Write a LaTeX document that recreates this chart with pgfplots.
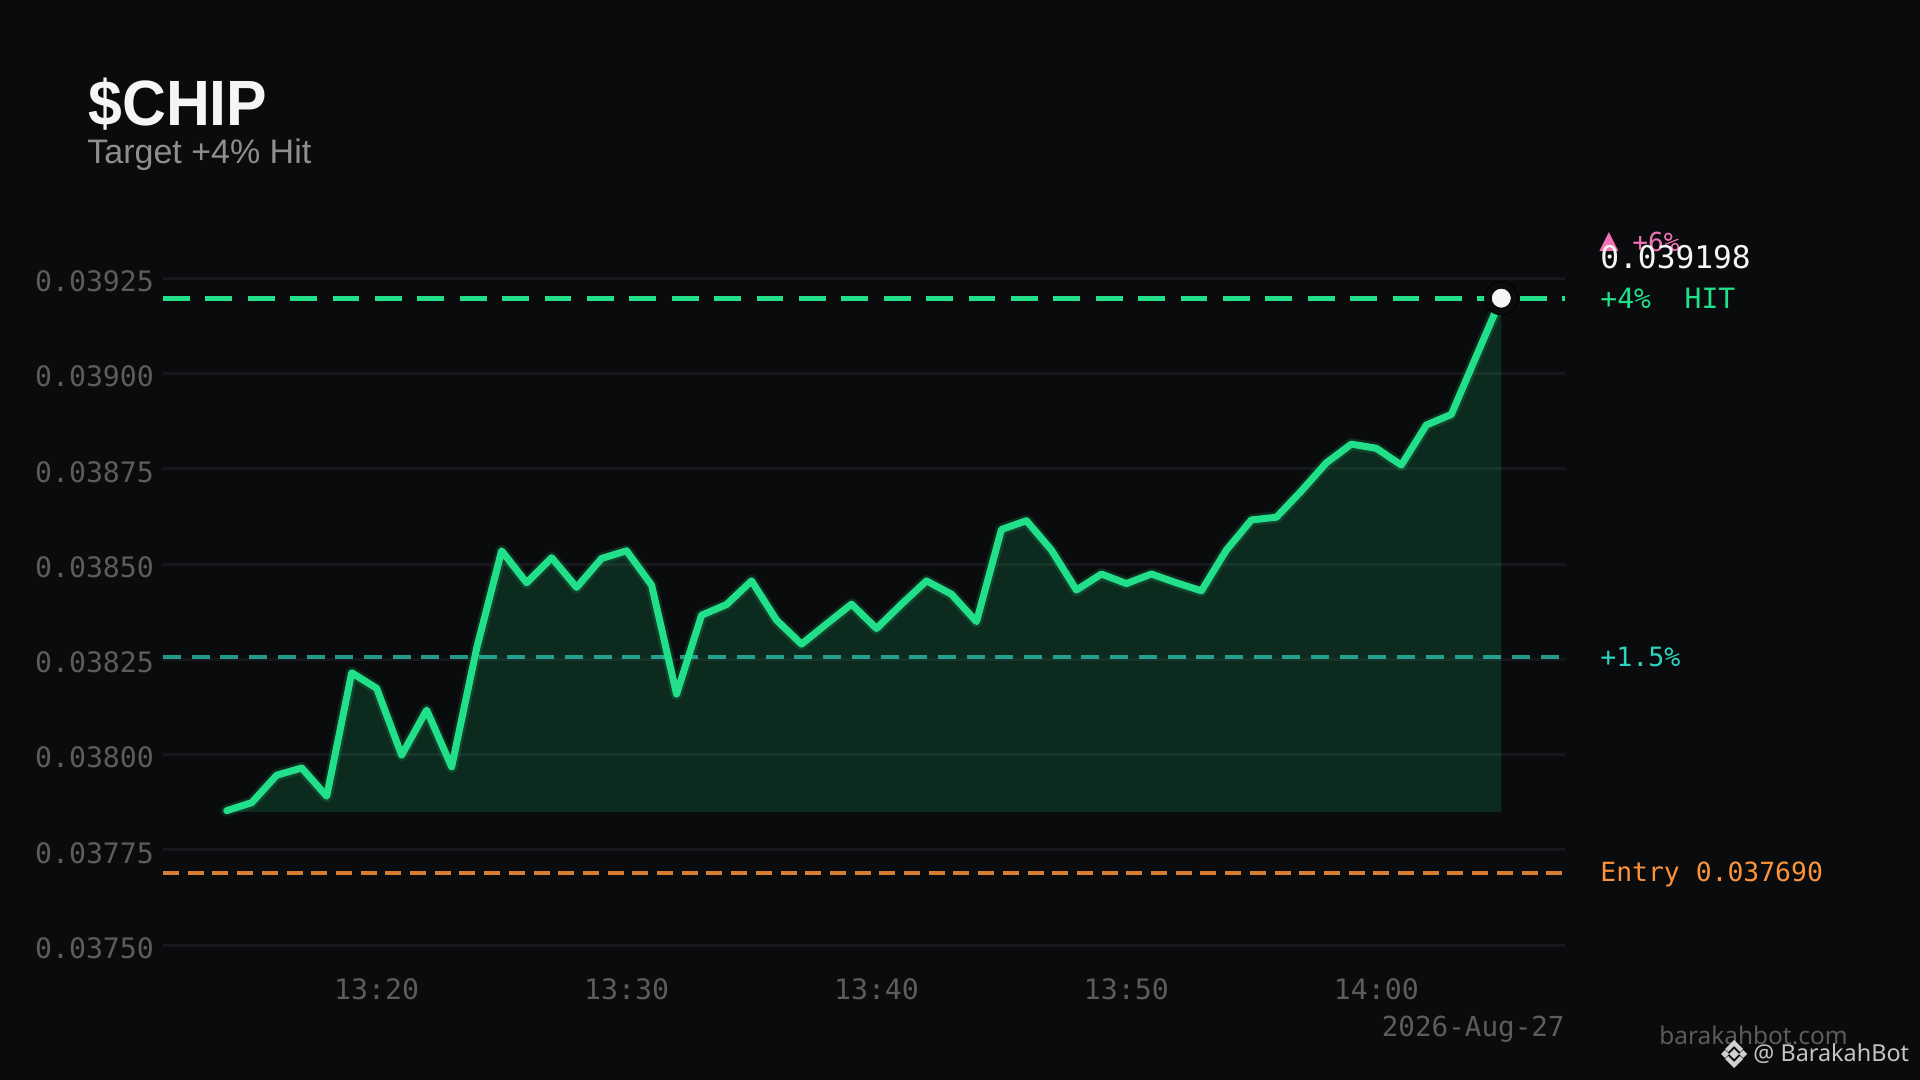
\documentclass[border=0pt]{standalone}
\usepackage{fontspec}
\usepackage{pgfplots}
\pgfplotsset{compat=1.18}
\setmainfont{Liberation Sans}
\newfontfamily\monof{DejaVu Sans Mono}
\newfontfamily\notof{Noto Sans}
\newfontfamily\dejaf{DejaVu Sans}
\definecolor{bg}{HTML}{0A0B0D}
\definecolor{gridc}{HTML}{17181B}
\definecolor{up}{HTML}{22E08A}
\definecolor{teal}{HTML}{2DD4BF}
\definecolor{entry}{HTML}{FB923C}
\definecolor{pinkc}{HTML}{F472B6}
\definecolor{paper}{HTML}{F5F5F4}
\definecolor{ticktxt}{HTML}{5C5C5A}
\definecolor{subtxt}{HTML}{8E8E8A}
\pgfplotstableread{
t price
14 0.037853
15 0.037874
16 0.037946
17 0.037965
18 0.037891
19 0.038215
20 0.038174
21 0.037999
22 0.038117
23 0.037968
24 0.038279
25 0.038535
26 0.038451
27 0.038517
28 0.038439
29 0.038515
30 0.038535
31 0.038445
32 0.038159
33 0.038366
34 0.038394
35 0.038456
36 0.038353
37 0.038290
38 0.038343
39 0.038395
40 0.038331
41 0.038395
42 0.038456
43 0.038421
44 0.038349
45 0.038591
46 0.038614
47 0.038537
48 0.038432
49 0.038474
50 0.038449
51 0.038474
52 0.038451
53 0.038430
54 0.038537
55 0.038616
56 0.038623
57 0.038692
58 0.038766
59 0.038815
60 0.038804
61 0.038760
62 0.038865
63 0.038893
64 0.039046
65 0.039198
}\pricetable
\begin{document}
\begin{tikzpicture}[x=0.5pt,y=0.5pt]
\fill[bg] (0,0) rectangle (1920,1080);
\useasboundingbox (0,0) rectangle (1920,1080);
\begin{axis}[
  at={(81.5pt,60pt)}, anchor=south west,
  scale only axis, width=701pt, height=365pt,
  xmin=11.45, xmax=67.55, ymin=0.037461, ymax=0.039377,
  clip=false,
  axis line style={draw=none},
  major tick length=0pt,
  scaled y ticks=false,
  ymajorgrids, grid style={gridc, line width=1.5pt},
  xtick={20,30,40,50,60},
  xticklabels={13:20,13:30,13:40,13:50,14:00},
  ytick={0.0375,0.03775,0.038,0.03825,0.0385,0.03875,0.039,0.03925},
  yticklabels={0.03750,0.03775,0.03800,0.03825,0.03850,0.03875,0.03900,0.03925},
  ticklabel style={font=\monof\fontsize{14.1pt}{16pt}\selectfont, text=ticktxt},
  yticklabel style={xshift=-1pt, yshift=-1.5pt},
  xticklabel style={yshift=-5.8pt},
]
% fill under the price, down to the 0.03785 floor
\addplot[draw=none, fill=up, fill opacity=0.15] table[x=t,y=price] {\pricetable} -- (axis cs:65,0.03785) -- (axis cs:14,0.03785) -- cycle;
% level lines
\addplot[up, line width=2.6pt, dash pattern=on 13.35pt off 7.85pt] coordinates {(11.45,0.039198) (67.55,0.039198)};
\addplot[teal, opacity=0.7, line width=2pt, dash pattern=on 9pt off 5.35pt] coordinates {(11.45,0.038255) (67.55,0.038255)};
\addplot[entry, opacity=0.85, line width=2pt, dash pattern=on 8pt off 4.35pt] coordinates {(11.45,0.03769) (67.55,0.03769)};
% price line with its halo
\addplot[up, opacity=0.15, line width=6pt, line join=round, line cap=round] table[x=t,y=price] {\pricetable};
\addplot[up, line width=3.5pt, line join=round, line cap=round] table[x=t,y=price] {\pricetable};
% last price dot
\addplot[only marks, mark=*, mark size=8.35pt, mark options={fill=bg, draw=none}] coordinates {(65,0.039198)};
\addplot[only marks, mark=*, mark size=5pt, mark options={fill=paper, draw=none}] coordinates {(65,0.039198)};
\end{axis}
% title block
\node[anchor=base west, inner sep=0pt, text=paper, xscale=0.95] at (88,954) {\fontsize{32pt}{36pt}\selectfont\bfseries \$CHIP};
\node[anchor=base west, inner sep=0pt, text=subtxt] at (87,916) {\fontsize{17pt}{20pt}\selectfont Target +4\% Hit};
% right side labels
\node[anchor=west, inner sep=0pt, text=pinkc] at (1599,838) {\dejaf\fontsize{12.5pt}{15pt}\selectfont ▲};
\node[anchor=west, inner sep=0pt, text=pinkc] at (1632,838) {\monof\fontsize{13.1pt}{15pt}\selectfont +6\%};
\node[anchor=west, inner sep=0pt, text=paper] at (1600,823) {\monof\fontsize{15.6pt}{18pt}\selectfont 0.039198};
\node[anchor=west, inner sep=0pt, text=up] at (1600,782) {\monof\fontsize{14pt}{17pt}\selectfont +4\%\ \ HIT};
\node[anchor=west, inner sep=0pt, text=teal] at (1600,423) {\monof\fontsize{13.3pt}{16pt}\selectfont +1.5\%};
\node[anchor=west, inner sep=0pt, text=entry] at (1600,205.5) {\monof\fontsize{13.2pt}{16pt}\selectfont Entry 0.037690};
% footer
\node[anchor=east, inner sep=0pt, text=ticktxt] at (1565,51) {\monof\fontsize{13.8pt}{16pt}\selectfont 2026-Aug-27};
\node[anchor=west, inner sep=0pt, text=ticktxt] at (1659,45) {\notof\bfseries\fontsize{12.2pt}{15pt}\selectfont barakahbot.com};
% logo
\begin{scope}[shift={(1734,26)}, fill=paper!85!black]
\fill (0,-5) -- (5,0) -- (0,5) -- (-5,0) -- cycle;
\fill (-13,0) -- (-9,4) -- (-5,0) -- (-9,-4) -- cycle;
\fill (13,0) -- (9,4) -- (5,0) -- (9,-4) -- cycle;
\fill (0,14) -- (9,5) -- (6,2) -- (0,8) -- (-6,2) -- (-9,5) -- cycle;
\fill (0,-14) -- (9,-5) -- (6,-2) -- (0,-8) -- (-6,-2) -- (-9,-5) -- cycle;
\end{scope}
\node[anchor=west, inner sep=0pt, text=paper!80!black] at (1753,26) {\notof\fontsize{11.7pt}{15pt}\selectfont @ BarakahBot};
\end{tikzpicture}
\end{document}
